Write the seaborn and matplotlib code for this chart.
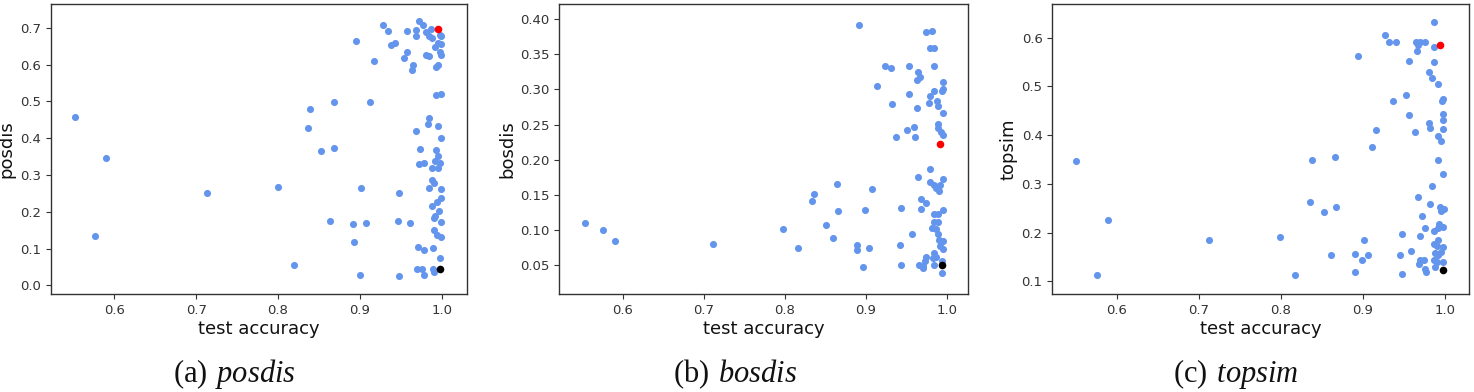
import matplotlib
matplotlib.use("Agg")
import matplotlib.pyplot as plt
import seaborn as sns
import pandas as pd

# ---------------- data ----------------
posdis_acc = [0.552, 0.590, 0.576, 0.713, 0.800, 0.819, 0.839, 0.837, 0.868, 0.853,
              0.869, 0.863, 0.892, 0.893, 0.900, 0.902, 0.908, 0.912, 0.895, 0.917,
              0.928, 0.934, 0.938, 0.943, 0.946, 0.948, 0.948, 0.954, 0.957, 0.957,
              0.961, 0.965, 0.964, 0.968, 0.969, 0.972, 0.977, 0.969, 0.973, 0.972,
              0.978, 0.971, 0.978, 0.970, 0.976, 0.978, 0.981, 0.985, 0.988, 0.987,
              0.981, 0.984, 0.985, 0.983, 0.985, 0.988, 0.991, 0.988, 0.994, 0.992,
              0.991, 0.990, 0.989, 0.994, 0.989, 0.990, 0.993, 0.999, 0.995, 0.9995,
              0.993, 0.996, 0.992, 0.998, 0.996, 0.988, 0.9995, 0.999, 0.997, 0.9995,
              0.9995, 0.998, 0.998, 0.9995, 0.992, 0.996, 0.9995, 0.998, 0.999, 0.993,
              0.996]
posdis_val = [0.457, 0.345, 0.135, 0.252, 0.268, 0.055, 0.479, 0.428, 0.499, 0.364,
              0.372, 0.174, 0.167, 0.119, 0.028, 0.264, 0.170, 0.499, 0.663, 0.610,
              0.707, 0.691, 0.654, 0.659, 0.174, 0.250, 0.024, 0.619, 0.633, 0.690,
              0.170, 0.599, 0.585, 0.694, 0.678, 0.719, 0.707, 0.420, 0.370, 0.330,
              0.333, 0.103, 0.096, 0.045, 0.045, 0.028, 0.688, 0.678, 0.671, 0.696,
              0.626, 0.623, 0.454, 0.438, 0.264, 0.286, 0.277, 0.216, 0.227, 0.188,
              0.182, 0.150, 0.101, 0.137, 0.045, 0.037, 0.516, 0.519, 0.433, 0.399,
              0.368, 0.352, 0.338, 0.333, 0.320, 0.320, 0.261, 0.236, 0.203, 0.173,
              0.130, 0.073, 0.680, 0.678, 0.649, 0.659, 0.655, 0.635, 0.626, 0.594,
              0.600]

bosdis_acc = [0.553, 0.576, 0.590, 0.712, 0.798, 0.816, 0.834, 0.836, 0.851, 0.860,
              0.865, 0.866, 0.889, 0.889, 0.892, 0.897, 0.899, 0.904, 0.908, 0.914,
              0.924, 0.931, 0.933, 0.938, 0.942, 0.944, 0.944, 0.951, 0.954, 0.954,
              0.957, 0.960, 0.961, 0.964, 0.965, 0.967, 0.964, 0.965, 0.968, 0.969,
              0.974, 0.966, 0.971, 0.973, 0.975, 0.971, 0.974, 0.982, 0.979, 0.984,
              0.984, 0.980, 0.984, 0.978, 0.979, 0.980, 0.985, 0.987, 0.991, 0.992,
              0.984, 0.990, 0.995, 0.982, 0.984, 0.989, 0.987, 0.990, 0.991, 0.995,
              0.996, 0.992, 0.985, 0.983, 0.987, 0.985, 0.988, 0.989, 0.989, 0.990,
              0.993, 0.995, 0.995, 0.995, 0.994, 0.995, 0.995, 0.994, 0.994]
bosdis_val = [0.110, 0.100, 0.085, 0.081, 0.101, 0.074, 0.141, 0.152, 0.107, 0.089,
              0.166, 0.127, 0.079, 0.072, 0.392, 0.047, 0.128, 0.074, 0.158, 0.305,
              0.333, 0.331, 0.279, 0.233, 0.079, 0.131, 0.050, 0.243, 0.333, 0.293,
              0.094, 0.246, 0.232, 0.274, 0.324, 0.317, 0.313, 0.175, 0.130, 0.144,
              0.138, 0.051, 0.049, 0.056, 0.062, 0.046, 0.381, 0.383, 0.359, 0.359,
              0.333, 0.291, 0.298, 0.281, 0.187, 0.168, 0.164, 0.160, 0.155, 0.164,
              0.123, 0.123, 0.128, 0.103, 0.112, 0.112, 0.101, 0.094, 0.086, 0.084,
              0.073, 0.077, 0.067, 0.060, 0.062, 0.050, 0.283, 0.276, 0.251, 0.245,
              0.239, 0.235, 0.311, 0.300, 0.297, 0.266, 0.172, 0.056, 0.039]

topsim_acc = [0.551, 0.576, 0.589, 0.712, 0.799, 0.817, 0.836, 0.838, 0.852, 0.861,
              0.866, 0.867, 0.890, 0.890, 0.894, 0.899, 0.901, 0.906, 0.911, 0.916,
              0.927, 0.932, 0.940, 0.936, 0.945, 0.947, 0.947, 0.953, 0.956, 0.956,
              0.959, 0.963, 0.965, 0.970, 0.976, 0.967, 0.966, 0.967, 0.969, 0.968,
              0.969, 0.972, 0.974, 0.976, 0.976, 0.977, 0.980, 0.980, 0.982, 0.982,
              0.984, 0.984, 0.987, 0.986, 0.986, 0.986, 0.987, 0.990, 0.988, 0.991,
              0.986, 0.988, 0.992, 0.993, 0.992, 0.991, 0.992, 0.995, 0.992, 0.994,
              0.995, 0.996, 0.998, 0.998, 0.998, 0.998, 0.998, 0.999, 0.997, 0.998,
              0.998, 0.995, 0.990]
topsim_val = [0.347, 0.113, 0.225, 0.185, 0.191, 0.114, 0.263, 0.349, 0.243, 0.153,
              0.355, 0.252, 0.156, 0.120, 0.562, 0.144, 0.185, 0.153, 0.375, 0.411,
              0.605, 0.592, 0.592, 0.471, 0.155, 0.115, 0.197, 0.483, 0.553, 0.442,
              0.163, 0.407, 0.592, 0.592, 0.592, 0.584, 0.573, 0.274, 0.144, 0.135,
              0.192, 0.234, 0.144, 0.209, 0.125, 0.120, 0.530, 0.424, 0.414, 0.258,
              0.517, 0.295, 0.632, 0.580, 0.549, 0.203, 0.176, 0.172, 0.159, 0.153,
              0.144, 0.130, 0.185, 0.217, 0.210, 0.505, 0.398, 0.388, 0.349, 0.252,
              0.245, 0.469, 0.474, 0.443, 0.430, 0.412, 0.320, 0.248, 0.211, 0.170,
              0.140, 0.160, 0.140]

# highlighted runs: (accuracy, value) for red and black markers
posdis_red = [0.996, 0.697]
posdis_black = [0.998, 0.044]
bosdis_red = [0.992, 0.223]
bosdis_black = [0.994, 0.050]
topsim_red = [0.994, 0.585]
topsim_black = [0.997, 0.1225]

metric_names = ["posdis", "bosdis", "topsim"]
caption_letters = ["(a)", "(b)", "(c)"]
x_label = "test accuracy"
x_ticks = [0.6, 0.7, 0.8, 0.9, 1.0]
posdis_ticks = [0.0, 0.1, 0.2, 0.3, 0.4, 0.5, 0.6, 0.7]
bosdis_ticks = [0.05, 0.10, 0.15, 0.20, 0.25, 0.30, 0.35, 0.40]
topsim_ticks = [0.1, 0.2, 0.3, 0.4, 0.5, 0.6]

# ---------------- style ----------------
sns.set_style("ticks")
plt.rcParams["font.family"] = ["DejaVu Sans"]
plt.rcParams["mathtext.fontset"] = "custom"
plt.rcParams["mathtext.rm"] = "Liberation Serif"
plt.rcParams["mathtext.it"] = "Liberation Serif:italic"
plt.rcParams["axes.edgecolor"] = "#333333"
plt.rcParams["xtick.color"] = "#333333"
plt.rcParams["ytick.color"] = "#333333"
plt.rcParams["text.color"] = "#111111"
plt.rcParams["axes.labelcolor"] = "#111111"

W, H = 1474, 392
fig = plt.figure(figsize=(W / 100, H / 100), dpi=100)

panels = [
    dict(acc=posdis_acc, val=posdis_val, red=posdis_red, black=posdis_black,
         yt=posdis_ticks, box=(50.7, 467.0), xlim=(0.5223, 1.0309), ylim=(-0.0236, 0.7645),
         cap_x=234),
    dict(acc=bosdis_acc, val=bosdis_val, red=bosdis_red, black=bosdis_black,
         yt=bosdis_ticks, box=(559.3, 968.3), xlim=(0.5218, 1.0268), ylim=(0.0093, 0.4213),
         cap_x=735),
    dict(acc=topsim_acc, val=topsim_val, red=topsim_red, black=topsim_black,
         yt=topsim_ticks, box=(1052.3, 1468.7), xlim=(0.5216, 1.0288), ylim=(0.074, 0.669),
         cap_x=1236),
]

top_px, bottom_px = 4.0, 294.0
for i, p in enumerate(panels):
    l, r = p["box"]
    ax = fig.add_axes([l / W, (H - bottom_px) / H, (r - l) / W, (bottom_px - top_px) / H])
    df = pd.DataFrame({"acc": p["acc"], "val": p["val"]})
    sns.scatterplot(data=df, x="acc", y="val", ax=ax, color="cornflowerblue",
                    s=26, linewidth=0, legend=False)
    sns.scatterplot(x=[p["red"][0]], y=[p["red"][1]], ax=ax, color="red",
                    s=30, linewidth=0, legend=False)
    sns.scatterplot(x=[p["black"][0]], y=[p["black"][1]], ax=ax, color="black",
                    s=30, linewidth=0, legend=False)
    ax.set_xlim(*p["xlim"])
    ax.set_ylim(*p["ylim"])
    ax.set_xticks(x_ticks)
    ax.set_xticklabels([f"{t:.1f}" for t in x_ticks])
    ax.set_yticks(p["yt"])
    if metric_names[i] == "bosdis":
        ax.set_yticklabels([f"{t:.2f}" for t in p["yt"]])
    else:
        ax.set_yticklabels([f"{t:.1f}" for t in p["yt"]])
    ax.tick_params(labelsize=9.5, length=3.5, width=0.8)
    ax.set_xlabel(x_label, fontsize=13, labelpad=2)
    ax.set_ylabel(metric_names[i], fontsize=13, labelpad=3)
    for sp in ax.spines.values():
        sp.set_linewidth(1.0)
    fig.text(p["cap_x"] / W, 1 - 374 / H,
             caption_letters[i] + r"$\;\,\mathit{" + metric_names[i] + "}$",
             family="Liberation Serif", fontsize=22, ha="center", va="center")

fig.savefig("out.png", dpi=100)
